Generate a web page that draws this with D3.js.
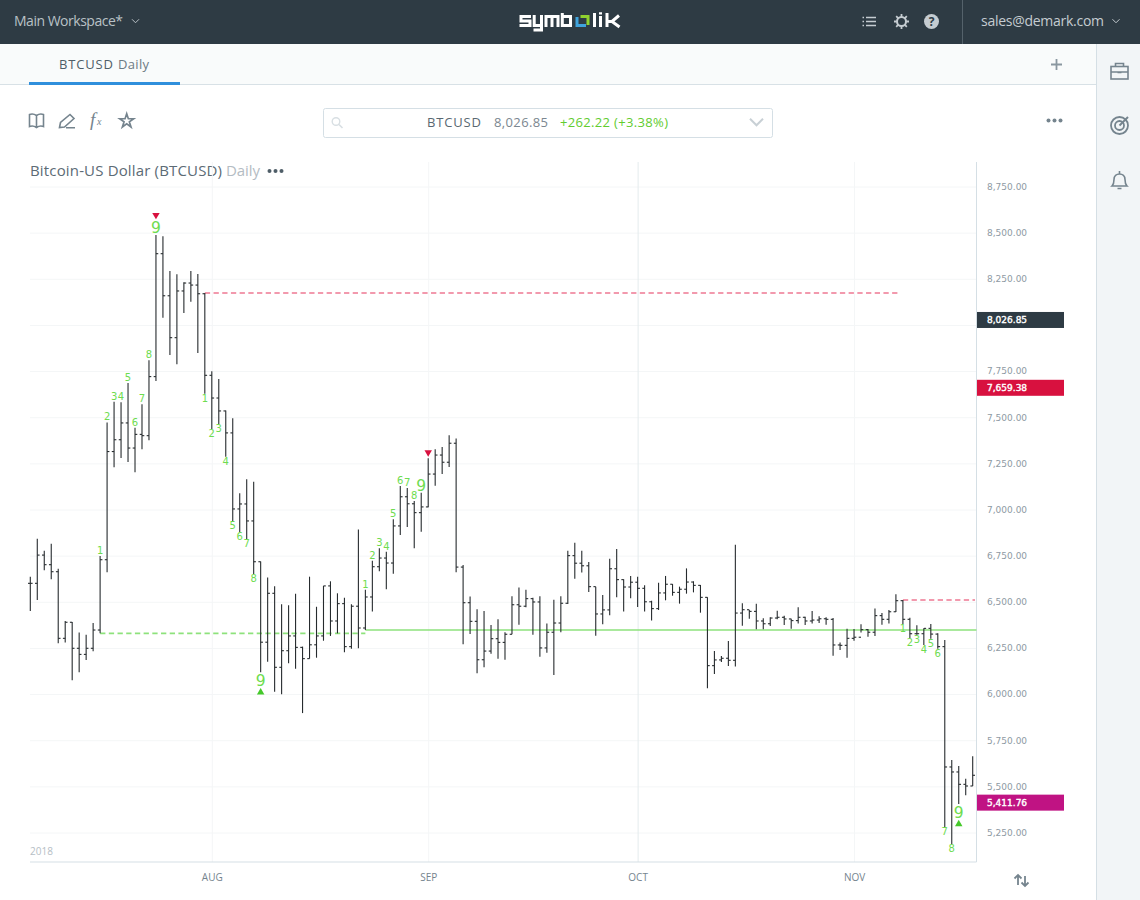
<!DOCTYPE html>
<html lang="en">

<head>
    <meta charset="UTF-8">
    <script src="https://d3js.org/d3.v7.min.js"></script>
    <title>BTCUSD Daily</title>
    <style>
        html, body { margin: 0; padding: 0; background: #fff; }
        svg { display: block; }
        text { font-family: "Open Sans", "Noto Sans", sans-serif; }
    </style>
</head>

<body>
    <script>
        // daily bars, 6 Jul 2018 - 18 Nov 2018
        var firstDay = "2018-07-06";
        var lastDay = "2018-11-18";
        var opens = [6600,6600,6753,6701,6663,6302,6389,6248,6215,6248,
            6347,6728,7314,7378,7469,7333,7407,7400,7720,8386,
            8158,7931,8184,8227,8216,8169,7727,7604,7534,7415,
            7003,7030,6938,6717,6281,6546,6145,6235,6315,6253,
            6192,6267,6315,6586,6396,6490,6257,6476,6358,6526,
            6690,6737,6710,6911,7069,7031,6983,7014,7192,7295,
            7256,7359,6688,6495,6394,6186,6233,6300,6280,6324,
            6484,6476,6517,6499,6250,6335,6385,6492,6750,6709,
            6695,6582,6434,6456,6679,6620,6580,6606,6573,6500,
            6463,6548,6595,6551,6568,6607,6589,6524,6154,6185,
            6194,6183,6439,6457,6448,6396,6381,6412,6416,6407,
            6398,6416,6396,6401,6408,6405,6266,6264,6302,6308,
            6349,6335,6425,6405,6446,6506,6405,6327,6327,6356,
            6325,6257,5605,5578,5511,5502];
        var highs = [6636,6842,6777,6815,6679,6396,6390,6333,6322,6385,
            6748,7472,7584,7581,7685,7443,7570,7808,8487,8480,
            8292,8274,8231,8292,8276,8173,7749,7707,7537,7494,
            7088,7164,7151,6718,6631,6584,6486,6481,6544,6257,
            6636,6473,6586,6611,6546,6522,6486,6891,6565,6723,
            6790,6771,6947,7127,7116,7046,7091,7277,7326,7339,
            7402,7384,6699,6528,6459,6450,6374,6405,6335,6530,
            6578,6565,6522,6530,6383,6511,6530,6777,6820,6777,
            6716,6582,6537,6733,6786,6622,6640,6636,6589,6506,
            6603,6640,6596,6582,6681,6611,6591,6524,6233,6206,
            6288,6809,6492,6456,6490,6411,6416,6452,6425,6408,
            6470,6419,6450,6421,6416,6412,6280,6354,6353,6378,
            6353,6463,6439,6456,6541,6510,6414,6373,6356,6380,
            6329,6293,5643,5610,5541,5663];
        var lows = [6450,6510,6671,6622,6275,6280,6075,6118,6185,6232,
            6329,6660,7229,7279,7257,7202,7326,7375,7696,8039,
            7837,7787,8065,8126,7848,7627,7436,7462,7286,6938,
            6878,6839,6651,6118,6175,6013,5999,6167,6137,5897,
            6192,6197,6289,6315,6329,6226,6246,6248,6347,6448,
            6665,6568,6652,6862,6905,6790,6880,7012,7129,7192,
            7230,6660,6270,6325,6113,6145,6219,6192,6186,6324,
            6376,6470,6322,6202,6224,6103,6335,6488,6625,6658,
            6553,6316,6378,6427,6524,6448,6519,6472,6448,6398,
            6456,6508,6533,6490,6544,6551,6441,6031,6109,6174,
            6152,6150,6370,6408,6351,6351,6369,6405,6374,6354,
            6383,6374,6383,6385,6376,6208,6239,6197,6289,6333,
            6311,6315,6376,6383,6445,6378,6302,6322,6266,6300,
            6246,5278,5186,5404,5452,5502];
        var closes = [6600,6753,6701,6663,6302,6389,6248,6215,6248,6347,
            6728,7314,7378,7469,7333,7407,7400,7720,8386,8158,
            7931,8184,8227,8216,8169,7727,7604,7534,7415,7003,
            7030,6938,6717,6281,6546,6145,6235,6315,6253,6192,
            6267,6315,6586,6396,6490,6257,6476,6358,6526,6690,
            6737,6710,6911,7069,7031,6983,7014,7192,7295,7256,
            7359,6688,6495,6394,6186,6233,6300,6280,6324,6484,
            6476,6517,6499,6250,6335,6385,6492,6750,6709,6695,
            6582,6434,6456,6679,6620,6580,6606,6573,6500,6463,
            6548,6595,6551,6568,6607,6589,6524,6154,6185,6194,
            6183,6439,6457,6448,6396,6381,6412,6416,6407,6398,
            6416,6396,6401,6408,6405,6266,6264,6302,6308,6349,
            6335,6425,6405,6446,6506,6405,6327,6327,6356,6325,
            6257,5605,5578,5511,5502,5560];

        // setup counts 1-9: bar where each count starts, and where the digits sit
        var setupStarts = [10, 25, 48, 125];
        var setupSides = ["above", "below", "above", "below"];
        // triangles after the 9
        var flipBars = [18, 33, 57, 133];
        var flipSides = ["above", "below", "above", "below"];

        // horizontal levels
        var levelPrices = [8173, 6329, 6347, 6510];
        var levelFrom = ["2018-07-31", "2018-07-16", "2018-08-23", "2018-11-08"];
        var levelTo = ["2018-11-07T14:00Z", "2018-08-23", "2018-11-18T13:00Z", "2018-11-18T08:00Z"];
        var levelKinds = ["red", "green", "solid", "red"];

        var priceTicks = d3.range(5250, 8751, 250);
        var monthTicks = ["2018-08-01", "2018-09-01", "2018-10-01", "2018-11-01"];

        var tagPrices = [8026.85, 7659.38, 5411.76];
        var tagColors = ["#2e3b44", "#d8113f", "#c01383"];

        var w = 1140,
            h = 900,
            plotLeft = 30,
            plotRight = 976.5,
            plotTop = 162,
            plotBottom = 862;

        var green = "#6ddc4e";
        var mono = "'DejaVu Sans'";
        var svg = d3.select("body").append("svg").attr("width", w).attr("height", h);

        var days = d3.utcDay.range(new Date(firstDay), d3.utcDay.offset(new Date(lastDay), 1));
        var x = d3.scaleUtc().domain([new Date(firstDay), new Date(lastDay)]).range([30.3, 972.7]);
        var y = d3.scaleLinear().domain([5250, 8750]).range([832.5, 186.5]);

        chrome();
        grid();
        levels();
        bars();
        setups();
        axes();

        // page around the chart
        function chrome() {
            svg.append("rect").attr("x", 0).attr("y", 44).attr("width", 1096).attr("height", 40).attr("fill", "#f9fbfb");
            svg.append("rect").attr("x", 0).attr("y", 84).attr("width", 1096).attr("height", 1).attr("fill", "#d8e1e6");
            svg.append("rect").attr("x", 29).attr("y", 82).attr("width", 151).attr("height", 3).attr("fill", "#2f8fdc");
            svg.append("rect").attr("x", 1096).attr("y", 44).attr("width", 44).attr("height", 856).attr("fill", "#f2f5f7");
            svg.append("rect").attr("x", 1096).attr("y", 44).attr("width", 1).attr("height", 856).attr("fill", "#d5dfe5");
            svg.append("rect").attr("x", 0).attr("y", 0).attr("width", w).attr("height", 44).attr("fill", "#2e3b44");
            svg.append("rect").attr("x", 962).attr("y", 0).attr("width", 1).attr("height", 44).attr("fill", "#55626b");

            label(14, 26, "Main Workspace*", 14, "#b9c1c6", 109);
            label(981, 26, "sales@demark.com", 14, "#c5ccd1", 123);
            chevron(135.5, 21, 3.5, "#b9c1c6", 1);
            chevron(1116, 21, 3.5, "#c5ccd1", 1);

            logo();

            // header icons
            icon("M866 17.5H876M866 21.5H876M866 25.5H876M862.5 17.5H864M862.5 21.5H864M862.5 25.5H864", "#c5ccd1", 1.5);
            svg.append("circle").attr("cx", 901.5).attr("cy", 21.5).attr("r", 4.5).attr("fill", "none").attr("stroke", "#c5ccd1").attr("stroke-width", 2);
            icon("M901.5 14V17M901.5 26V29M894 21.5H897M906 21.5H909M896.2 16.2L898.3 18.3M904.7 24.7L906.8 26.8M906.8 16.2L904.7 18.3M898.3 24.7L896.2 26.8", "#c5ccd1", 1.8);
            svg.append("circle").attr("cx", 931.5).attr("cy", 21.5).attr("r", 7.5).attr("fill", "#c5ccd1");
            svg.append("text").attr("x", 931.5).attr("y", 26).attr("text-anchor", "middle").attr("font-size", 12).attr("font-weight", "bold").attr("fill", "#2e3b44").text("?");

            // tab bar
            label(59, 69, "BTCUSD", 13, "#4f5e68", 54);
            label(118, 69, "Daily", 13, "#6d7a83", 31);
            icon("M1051 64.5H1062M1056.5 59V70", "#8a97a0", 1.8);

            // toolbar
            icon("M36.5 115.5C34 113.8 31.5 113.8 29.5 114.5V126.5C31.5 125.8 34 125.8 36.5 127.5C39 125.8 41.5 125.8 43.5 126.5V114.5C41.5 113.8 39 113.8 36.5 115.5ZM36.5 115.5V127.5", "#75848e", 1.6);
            icon("M59.5 127.5L60.5 122.5L70 114.5L74 118.5L64.5 127ZM66 127.8H75", "#75848e", 1.6);
            svg.append("text").attr("x", 90).attr("y", 126).attr("font-size", 19).attr("font-style", "italic").attr("fill", "#75848e").style("font-family", "'Liberation Serif'").text("f");
            svg.append("text").attr("x", 97).attr("y", 125).attr("font-size", 10).attr("font-style", "italic").attr("fill", "#75848e").style("font-family", "'Liberation Serif'").text("x");
            svg.append("path").attr("d", d3.symbol(d3.symbolStar, 60)).attr("transform", "translate(126.7,121)")
                .attr("fill", "none").attr("stroke", "#75848e").attr("stroke-width", 1.7);

            // symbol box
            svg.append("rect").attr("x", 323.5).attr("y", 108.5).attr("width", 449).attr("height", 29).attr("rx", 2)
                .attr("fill", "#fff").attr("stroke", "#d5dfe5");
            svg.append("circle").attr("cx", 336).attr("cy", 121.5).attr("r", 3.8).attr("fill", "none").attr("stroke", "#d8dfe3").attr("stroke-width", 1.4);
            icon("M339 124.5L342.5 128", "#d8dfe3", 1.6);
            label(427, 127, "BTCUSD", 13, "#5a6872", 54);
            label(494, 127, "8,026.85", 13, "#7b8790", 54);
            label(560, 127, "+262.22 (+3.38%)", 13, "#62cc2f", 108);
            chevron(756.5, 122, 6.5, "#c8d0d5", 2);

            // dots
            dots(1054.5, 120.5, "#75848e");
            dots(275.5, 171, "#4f5e68");

            // side icons
            svg.append("rect").attr("x", 1111).attr("y", 66.5).attr("width", 17).attr("height", 12.5).attr("fill", "none").attr("stroke", "#75848e").attr("stroke-width", 1.6);
            icon("M1115.5 66V63.5H1123.5V66M1111 72H1128M1117.5 72.5H1121.5", "#75848e", 1.6);
            svg.append("circle").attr("cx", 1119.5).attr("cy", 125.5).attr("r", 8.5).attr("fill", "none").attr("stroke", "#75848e").attr("stroke-width", 1.8);
            svg.append("circle").attr("cx", 1119.5).attr("cy", 125.5).attr("r", 4.5).attr("fill", "none").attr("stroke", "#75848e").attr("stroke-width", 1.8);
            icon("M1119.5 125.5L1128 117", "#75848e", 2);
            icon("M1112 186H1127C1125 184 1125 182 1125 179.5C1125 176 1122.5 174 1119.5 174C1116.5 174 1114 176 1114 179.5C1114 182 1114 184 1112 186ZM1119.5 171V174M1117.5 188.5H1121.5", "#75848e", 1.6);

            // swap icon under the axis
            icon("M1018 885V875M1014.5 878.5L1018 875L1021.5 878.5M1025 876V886M1021.5 882.5L1025 886L1028.5 882.5", "#75848e", 1.8);

            // chart title
            label(30, 176, "Bitcoin-US Dollar (BTCUSD)", 15, "#5c6b75", 192);
            label(226, 176, "Daily", 15, "#b4bcc3", 34);

            svg.append("text").attr("x", 30).attr("y", 855).attr("font-size", 10).attr("fill", "#b5bec5").text("2018");
        }

        // blocky wordmark, the original is a drawn logo and not a font
        function logo() {
            var letters = "M531 16.5H521V21H530V25.5H519.5" +
                "M534.2 15V25.5H541.5M541.5 15V30H533.5" +
                "M546 27V16.5H558V27M552 16.5V27" +
                "M562.3 13V25.5H570.5V16.5H562.3" +
                "M594.5 13V27" +
                "M600.5 16V27M600.5 12.2V14.5" +
                "M607 13V27M607 21.5H612L619 15.5M612 21.5L619.5 27";
            svg.append("path").attr("d", letters).attr("fill", "none").attr("stroke", "#fff").attr("stroke-width", 3);
            svg.append("path").attr("d", "M577 17V25.5H586").attr("fill", "none").attr("stroke", "#3fa3dc").attr("stroke-width", 3);
            svg.append("path").attr("d", "M580.5 16.5H588V25").attr("fill", "none").attr("stroke", "#8fd12f").attr("stroke-width", 3);
        }

        function label(px, py, str, size, color, width) {
            svg.append("text").attr("x", px).attr("y", py).attr("font-size", size).attr("fill", color)
                .attr("textLength", width).text(str);
        }

        function icon(d, color, width) {
            svg.append("path").attr("d", d).attr("fill", "none").attr("stroke", color).attr("stroke-width", width);
        }

        function chevron(cx, cy, r, color, width) {
            icon("M" + (cx - r) + " " + (cy - r / 2) + "L" + cx + " " + (cy + r / 2) + "L" + (cx + r) + " " + (cy - r / 2), color, width);
        }

        function dots(cx, cy, color) {
            svg.selectAll(null).data([-6, 0, 6]).enter().append("circle")
                .attr("cx", function(d) { return cx + d; })
                .attr("cy", cy).attr("r", 2).attr("fill", color);
        }

        function grid() {
            // horizontal grid comes from an axis with long ticks
            svg.append("g").attr("transform", "translate(" + plotLeft + ",0)")
                .call(d3.axisRight(y).tickValues(priceTicks).tickSize(plotRight - plotLeft).tickFormat(""))
                .call(function(g) { g.select(".domain").remove(); })
                .selectAll("line").attr("stroke", "#f4f6f7");

            svg.append("g").attr("transform", "translate(0," + plotTop + ")")
                .call(d3.axisBottom(x).tickValues(monthTicks.map(function(d) { return new Date(d); }))
                    .tickSize(plotBottom - plotTop).tickFormat(""))
                .call(function(g) { g.select(".domain").remove(); })
                .selectAll("line").attr("stroke", function(d) {
                    // October line is darker in the original
                    return d.getUTCMonth() == 9 ? "#e4ebee" : "#f4f6f7";
                });

            svg.append("path").attr("d", "M" + plotRight + " " + plotTop + "V" + plotBottom + "H" + plotLeft)
                .attr("fill", "none").attr("stroke", "#d5dfe5");
        }

        function levels() {
            var colors = { red: "#ee7892", green: "#8ee27c", solid: "#8ee27c" };
            levelPrices.forEach(function(p, i) {
                var line = svg.append("line")
                    .attr("x1", x(new Date(levelFrom[i])))
                    .attr("x2", x(new Date(levelTo[i])))
                    .attr("y1", y(p)).attr("y2", y(p))
                    .attr("stroke", colors[levelKinds[i]])
                    .attr("stroke-width", 1.6);
                if (levelKinds[i] != "solid") line.attr("stroke-dasharray", "5.3,3.4");
            });
        }

        function bars() {
            var g = svg.append("g").attr("stroke", "#262b2e").attr("stroke-width", 1.1);
            var bar = g.selectAll("g").data(days).enter().append("g");
            bar.append("line")
                .attr("x1", function(d) { return x(d); })
                .attr("x2", function(d) { return x(d); })
                .attr("y1", function(d, i) { return y(highs[i]); })
                .attr("y2", function(d, i) { return y(lows[i]); });
            bar.append("line")
                .attr("x1", function(d) { return x(d) - 2.3; })
                .attr("x2", function(d) { return x(d); })
                .attr("y1", function(d, i) { return y(opens[i]); })
                .attr("y2", function(d, i) { return y(opens[i]); });
            bar.append("line")
                .attr("x1", function(d) { return x(d); })
                .attr("x2", function(d) { return x(d) + 2.3; })
                .attr("y1", function(d, i) { return y(closes[i]); })
                .attr("y2", function(d, i) { return y(closes[i]); });
        }

        function setups() {
            var counts = d3.range(1, 10);
            // opacity just under 1 keeps the digits off lcd text smoothing, no colour fringes
            var layer = svg.append("g").style("opacity", 0.99);
            setupStarts.forEach(function(start, s) {
                var above = setupSides[s] == "above";
                layer.selectAll(null).data(counts).enter().append("text")
                    .attr("text-anchor", "middle")
                    .attr("fill", green)
                    .style("font-family", mono)
                    .attr("font-size", function(d) { return d == 9 ? 15.5 : 10; })
                    .attr("x", function(d) { return x(days[start + d - 1]); })
                    .attr("y", function(d) {
                        var i = start + d - 1;
                        if (above) return y(highs[i]) - 2;
                        return y(lows[i]) + (d == 9 ? 14 : 8);
                    })
                    .text(function(d) { return d; });
            });

            flipBars.forEach(function(b, i) {
                var above = flipSides[i] == "above";
                // the triangle clears the big 9 when the 9 is on the same bar
                var onNine = setupStarts.some(function(s) { return s + 8 == b; });
                var gap = onNine ? 20 : 6;
                var py = above ? y(highs[b]) - gap : y(lows[b]) + gap;
                svg.append("path")
                    .attr("d", d3.symbol(d3.symbolTriangle, 24))
                    .attr("transform", "translate(" + x(days[b]) + "," + py + ")" + (above ? " rotate(180)" : ""))
                    .attr("fill", above ? "#d8113f" : "#45c92a");
            });
        }

        function axes() {
            var yAxis = svg.append("g").attr("transform", "translate(" + plotRight + ",0)")
                .call(d3.axisRight(y).tickValues(priceTicks).tickSize(0).tickPadding(10.5).tickFormat(d3.format(",.2f")));
            yAxis.select(".domain").remove();
            yAxis.selectAll("text").attr("fill", "#8e9aa3").style("font-family", mono).style("font-size", "9px");
            // a price tag covers any tick label it sits on
            yAxis.selectAll(".tick").filter(function(d) {
                return tagPrices.some(function(p) { return Math.abs(y(p) - y(d)) < 12; });
            }).remove();

            var xAxis = svg.append("g").attr("transform", "translate(0," + plotBottom + ")")
                .call(d3.axisBottom(x).tickValues(monthTicks.map(function(d) { return new Date(d); }))
                    .tickSize(0).tickPadding(12).tickFormat(function(d) { return d3.utcFormat("%b")(d).toUpperCase(); }));
            xAxis.select(".domain").remove();
            xAxis.selectAll("text").attr("fill", "#75848e").style("font-size", "10px");

            tagPrices.forEach(function(p, i) {
                svg.append("rect").attr("x", plotRight + 0.5).attr("y", y(p) - 8).attr("width", 87).attr("height", 16).attr("fill", tagColors[i]);
                svg.append("text").attr("x", 987).attr("y", y(p) + 3.4).attr("font-size", 9)
                    .attr("fill", "#fff").attr("stroke", "#fff").attr("stroke-width", 0.4)
                    .style("font-family", mono).text(d3.format(",.2f")(p));
            });
        }
    </script>
</body>

</html>
